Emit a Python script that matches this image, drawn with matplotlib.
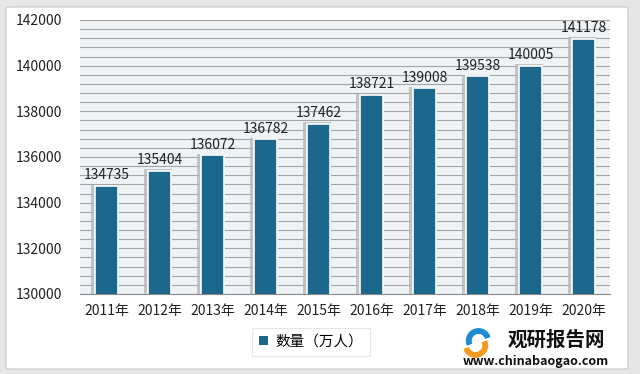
import matplotlib
matplotlib.use('Agg')
import matplotlib.pyplot as plt
from matplotlib import ticker
from matplotlib.patches import Patch, FancyBboxPatch, Wedge

plt.rcParams['font.family'] = ['Noto Sans CJK SC', 'DejaVu Sans']

# Data
years = ['2011年', '2012年', '2013年', '2014年', '2015年',
         '2016年', '2017年', '2018年', '2019年', '2020年']
values = [134735, 135404, 136072, 136782, 137462,
          138721, 139008, 139538, 140005, 141178]
series_name = '数量（万人）'

BAR_COLOR = '#1c678c'
GRID_COLOR = '#a4a4a4'
TEXT_COLOR = '#222222'

fig = plt.figure(figsize=(6.4, 3.74), dpi=100)
fig.patch.set_facecolor('#e6e6e6')

# white card with light frame
card = FancyBboxPatch((6 / 640, 5 / 374), 622 / 640, 362 / 374,
                      boxstyle='round,pad=0,rounding_size=0.006',
                      transform=fig.transFigure, facecolor='white',
                      edgecolor='#d0d0d0', linewidth=1.0, zorder=-5)
fig.patches.append(card)

ax = fig.add_axes([80 / 640, 1 - 294 / 374, 530 / 640, 274 / 374])
ax.set_facecolor('#f0f3f6')

x = range(len(years))
# soft shadow behind the bars
ax.bar([i - 0.03 for i in x], [v + 60 for v in values], width=0.52,
       color='#b8b8b8', alpha=0.8, zorder=2)
ax.bar(x, values, width=0.44, color=BAR_COLOR, edgecolor='white',
       linewidth=1.2, zorder=3)

for i, v in enumerate(values):
    ax.text(i, v + 150, str(v), ha='center', va='bottom',
            fontsize=10, color=TEXT_COLOR, zorder=4)

ax.set_ylim(130000, 142000)
ax.set_xlim(-0.5, len(years) - 0.5)
ax.yaxis.set_major_locator(ticker.MultipleLocator(2000))
ax.yaxis.set_minor_locator(ticker.MultipleLocator(400))
ax.grid(True, axis='y', which='both', color=GRID_COLOR, linewidth=0.8, zorder=1)
ax.set_axisbelow(True)

ax.set_xticks(list(x))
ax.set_xticklabels(years)
ax.tick_params(axis='both', which='both', length=0, labelsize=10,
               colors=TEXT_COLOR)
ax.tick_params(axis='y', pad=13)
ax.tick_params(axis='x', pad=7)
for side in ['top', 'right', 'left']:
    ax.spines[side].set_visible(False)
ax.spines['bottom'].set_color('#8a8a8a')

# legend
handle = Patch(facecolor=BAR_COLOR, edgecolor='none')
leg = fig.legend([handle], [series_name], loc='center',
                 bbox_to_anchor=(311 / 640, 1 - 342 / 374),
                 fontsize=10.5, frameon=True, handlelength=0.6, handleheight=0.6,
                 handletextpad=0.5, borderpad=0.5, fancybox=False)
leg.get_frame().set_edgecolor('#e0e0e0')
leg.get_frame().set_linewidth(0.8)

# watermark logo
logo_ax = fig.add_axes([458 / 640, 1 - 358 / 374, 38 / 640, 30 / 374])
logo_ax.set_xlim(-1, 1)
logo_ax.set_ylim(-1, 1)
logo_ax.set_aspect('equal')
logo_ax.axis('off')
logo_ax.add_patch(Wedge((0.1, 0.15), 0.8, 20, 200, width=0.3, color='#1f8ccf'))
logo_ax.add_patch(Wedge((-0.1, -0.15), 0.8, 200, 380, width=0.3, color='#f39a1e'))
fig.text(556 / 640, 1 - 340 / 374, '观研报告网', ha='center', va='center',
         fontsize=14, fontweight='bold', color='#111111')
fig.text(536 / 640, 1 - 362 / 374, 'www.chinabaogao.com', ha='center',
         va='center', fontsize=9, fontweight='bold', color='#111111')

fig.savefig('out.png', dpi=100)
